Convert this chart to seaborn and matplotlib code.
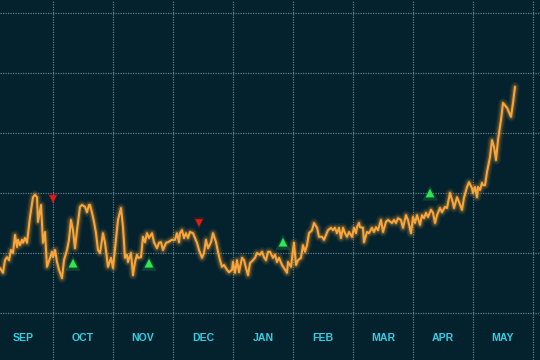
import numpy as np
import pandas as pd
import matplotlib
matplotlib.use("Agg")
import matplotlib.pyplot as plt
import seaborn as sns

# ---------------------------------------------------------
# Data
# ---------------------------------------------------------
months = ['SEP', 'OCT', 'NOV', 'DEC', 'JAN', 'FEB', 'MAR', 'APR', 'MAY']

days = [0, 1.5, 2.5, 3.5, 4.5, 5.5, 6.5, 7.5, 8.5, 9, 10, 11, 11.5, 12.5, 13.5,
        15, 16.5, 17.5, 18.5, 19, 20.5, 21.5, 22.5, 23.5, 25, 26, 26.5, 27.5,
        28.5, 29.5, 31, 32, 33.5, 34.5, 35.5, 36.5, 37.5, 38.5, 40, 41, 42.5,
        43.5, 44.5,
        45, 46, 47, 48, 49, 50, 51.5, 52.5, 54, 55.5, 56.5, 58, 59, 60.5, 61.5,
        62.5, 63.5, 64, 65.5, 66.5, 67.5, 68.5, 69, 70.5, 71.5, 72.5, 73.5,
        74.5, 76, 77, 78.5, 79.5, 80.5, 81.5, 83, 84, 86, 87.5, 88.5, 89.5,
        90, 91, 92, 93, 94, 95, 96.5, 97.5, 98.5, 99.5, 101, 102, 103, 104,
        105.5, 106.5, 108, 109, 110, 111, 112, 113.5, 114.5, 116, 116.5, 117.5,
        118.5, 119.5, 121, 122, 123, 124, 125, 126.5, 127.5, 128.5, 130, 131,
        132, 133, 134,
        135, 136.5, 137.5, 138.5, 139.5, 141, 142, 143.5, 144, 145.5, 146.5,
        147, 148, 149, 150.5, 151.5, 152.5, 153.5, 154.5, 156, 157, 158.5,
        159.5, 161, 162, 163, 164, 165.5, 166.5, 167.5, 168.5, 169.5, 170.5,
        171.5, 172.5, 173.5, 174.5, 176, 177, 178, 178.5, 179.5,
        180, 181.5, 182, 183.5, 184.5, 186, 187, 188, 189, 190.5, 191.5, 193,
        194, 196, 197, 198, 199, 200.5, 201.5, 203, 204, 205.5, 206.5, 207.5,
        208.5, 210, 211, 212, 213, 214, 215.5, 216.5, 217.5, 218.5, 220, 221,
        222.5, 223.5, 224.5,
        225, 226.5, 227, 228.5, 229.5, 231, 232, 233.5, 234.5, 236, 236.5,
        237.5, 238.5, 239, 240, 241, 241.5, 242.5, 243.5, 245, 246, 247, 248,
        249, 250.5, 251.5, 253.5, 255.5, 256.5, 257.5]

price = [107.5, 106.7, 108.8, 109.3, 108.8, 110.5, 110.0, 113.0, 111.0, 112.2,
         111.3, 112.2, 111.7, 112.5, 111.7, 116.0, 119.3, 119.7, 119.3, 115.2,
         118.0, 111.7, 113.5, 107.7, 109.2, 110.2, 109.3, 110.5, 108.5, 107.2,
         105.8, 108.8, 110.5, 112.2, 115.5, 113.8, 110.8, 113.8, 117.7, 118.0,
         117.7, 116.8, 118.0,
         118.0, 116.7, 115.2, 113.3, 110.5, 110.0, 113.3, 111.7, 107.7, 109.2,
         107.5, 112.2, 115.5, 117.5, 114.3, 109.2, 109.7, 108.5, 110.0, 106.3,
         108.5, 109.7, 109.2, 109.3, 112.7, 111.8, 113.3, 112.5, 113.3, 111.8,
         110.8, 111.7, 111.8, 110.5, 111.7, 111.8, 112.2, 112.2, 113.3, 111.8,
         113.3, 113.8, 112.5, 113.3, 112.5, 113.5, 113.3, 112.5, 111.7, 110.5,
         109.2, 110.0, 112.2, 110.8, 111.8, 113.3, 111.8, 110.2, 108.8, 107.7,
         108.0, 107.2, 106.8, 107.2, 108.5, 106.7, 108.8, 106.8, 109.2, 108.8,
         107.5, 106.3, 108.3, 108.8, 109.2, 110.0, 109.7, 110.2, 109.3, 108.8,
         110.2,
         110.2, 109.2, 109.7, 108.5, 109.2, 108.0, 107.5, 106.7, 108.5, 107.7,
         110.5, 111.7, 108.0, 108.8, 109.2, 111.3, 110.2, 111.3, 113.3, 113.8,
         115.0, 114.2, 112.7, 112.7, 112.2, 113.0, 113.8, 114.2, 113.8, 114.2,
         113.3, 114.2, 112.5, 114.2, 113.3, 112.7, 113.5, 112.7, 114.2, 113.3,
         114.3, 115.0,
         114.3, 114.2, 111.8, 113.5, 113.3, 114.2, 113.5, 114.3, 113.8, 115.5,
         113.5, 115.2, 115.5, 115.0, 115.5, 115.0, 115.8, 115.5, 114.2, 116.3,
         115.5, 113.3, 116.0, 115.0, 116.3, 114.7, 116.3, 115.8, 116.7, 116.0,
         117.2, 116.7, 115.0, 116.3, 117.5, 116.8, 117.7, 117.5, 119.2,
         120.0, 118.3, 117.5, 119.3, 118.5, 117.2, 119.2, 121.0, 121.8, 120.8,
         120.0, 121.0, 119.3, 121.0, 120.5, 121.7, 121.3, 121.3, 123.5, 126.0,
         128.8, 127.7, 125.5, 128.8, 132.2, 135.0, 134.2, 132.7, 135.0, 137.7]

buy_days = [36.5, 74.5, 141.5, 215]
buy_price = [108.3, 108.3, 111.8, 120.0]
sell_days = [26.5, 99.5]
sell_price = [119.0, 115.0]

assert len(days) == len(price)

df = pd.DataFrame({'day': days, 'price': price})
buys = pd.DataFrame({'day': buy_days, 'price': buy_price})
sells = pd.DataFrame({'day': sell_days, 'price': sell_price})

# ---------------------------------------------------------
# Styling
# ---------------------------------------------------------
BG = '#03222e'
LINE = '#f9a53a'
GRID = '#9cbac6'
LABEL = '#2fd0e4'

sns.set_theme(style="dark")
plt.rcParams['font.family'] = ['Liberation Sans', 'DejaVu Sans']

fig = plt.figure(figsize=(5.4, 3.6), dpi=100, facecolor=BG)
ax = fig.add_axes([0, 0, 1, 1])
ax.set_facecolor(BG)

# glow under the main line
for lw, a in [(7, 0.07), (5, 0.12), (3.2, 0.22)]:
    sns.lineplot(data=df, x='day', y='price', color=LINE, lw=lw, alpha=a,
                 ax=ax, sort=False, solid_capstyle='round')
sns.lineplot(data=df, x='day', y='price', color=LINE, lw=1.5, ax=ax, sort=False)

# buy / sell markers with a soft halo
sns.scatterplot(data=buys, x='day', y='price', marker='^', s=120, color='#22dd44',
                alpha=0.2, edgecolor='none', ax=ax)
sns.scatterplot(data=buys, x='day', y='price', marker='^', s=40, color='#2ee850',
                edgecolor='none', ax=ax)
sns.scatterplot(data=sells, x='day', y='price', marker='v', s=70, color='#e01515',
                alpha=0.2, edgecolor='none', ax=ax)
sns.scatterplot(data=sells, x='day', y='price', marker='v', s=30, color='#e51a14',
                edgecolor='none', ax=ax)

# grid: month boundaries and price levels
ax.set_xlim(0, 270)
ax.set_ylim(100 - 47 / 6, 100 + 313 / 6)
ax.set_xticks([26.5 + 30 * k for k in range(9)])
ax.set_yticks([100 + 10 * k for k in range(6)])
ax.grid(True, color=GRID, lw=0.9, ls=(0, (1, 1)), alpha=0.6)
ax.tick_params(length=0, labelbottom=False, labelleft=False)
ax.set_xlabel('')
ax.set_ylabel('')
for s in ax.spines.values():
    s.set_visible(False)
ax.set_axisbelow(True)

for k, m in enumerate(months):
    ax.text(11.5 + 30 * k, 100 - 25 / 6, m, color=LABEL, fontsize=7.6,
            fontweight='bold', ha='center', va='center')

fig.savefig('out.png', dpi=100, facecolor=BG)
